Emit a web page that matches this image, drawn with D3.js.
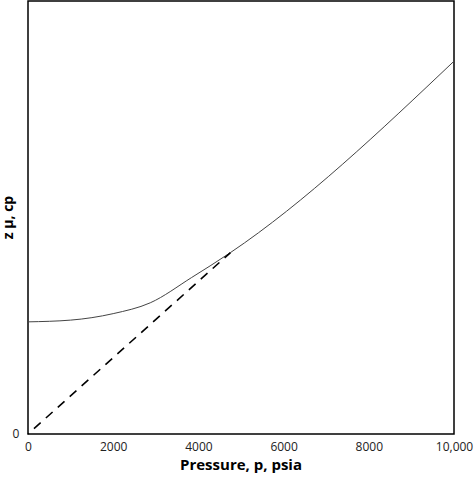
<!DOCTYPE html>
<html><head><meta charset="utf-8">
<script src="https://cdn.jsdelivr.net/npm/d3@7"></script>
<style>body{margin:0;background:#fff}text{font-family:"Open Sans",sans-serif}</style>
</head><body><div id="chart"></div>
<script>
const pressure = [0, 1000, 2000, 2870, 3835, 4753, 10000];
const zmu = [2.59, 2.63, 2.78, 3.03, 3.61, 4.19, 8.61];
const dashed = [[0, 0], [4753, 4.19]];
const xTicks = [0, 2000, 4000, 6000, 8000, 10000];

const width = 474, height = 477;
const svg = d3.select('#chart').append('svg')
  .attr('width', width).attr('height', height);

const x = d3.scaleLinear().domain([0, 10000]).range([28, 454]);
const y = d3.scaleLinear().domain([0, 10]).range([434, 1]);

svg.append('rect')
  .attr('x', x(0)).attr('y', y(10))
  .attr('width', x(10000) - x(0)).attr('height', y(0) - y(10))
  .attr('fill', 'none').attr('stroke', '#000').attr('stroke-width', 1.5);

const xAxis = svg.append('g')
  .attr('transform', `translate(0,${y(0)})`)
  .call(d3.axisBottom(x).tickValues(xTicks).tickSize(0).tickPadding(8)
    .tickFormat(d => d === 10000 ? '10,000' : d));
xAxis.select('.domain').remove();
xAxis.selectAll('text').attr('font-size', 12).attr('font-family', '"Open Sans",sans-serif').attr('fill', '#222');

svg.append('text').attr('x', 16).attr('y', y(0) + 4)
  .attr('text-anchor', 'middle').attr('font-size', 12).attr('fill', '#222').text('0');

svg.append('text').attr('x', x(5000)).attr('y', 470)
  .attr('text-anchor', 'middle').attr('font-size', 15).attr('font-weight', 'bold').text('Pressure, p, psia');

svg.append('text').attr('transform', `translate(13,${y(5)}) rotate(-90)`)
  .attr('text-anchor', 'middle').attr('font-size', 14).attr('font-weight', 'bold').text('z μ, cp');

const line = d3.line().x((d, i) => x(pressure[i])).y(d => y(d)).curve(d3.curveMonotoneX);
svg.append('path').datum(zmu).attr('d', line)
  .attr('fill', 'none').attr('stroke', '#444').attr('stroke-width', 1);

svg.append('path').datum(dashed)
  .attr('d', d3.line().x(d => x(d[0])).y(d => y(d[1])))
  .attr('fill', 'none').attr('stroke', '#000').attr('stroke-width', 1.6)
  .attr('stroke-dasharray', '9,7').attr('stroke-dashoffset', -8);
</script></body></html>
